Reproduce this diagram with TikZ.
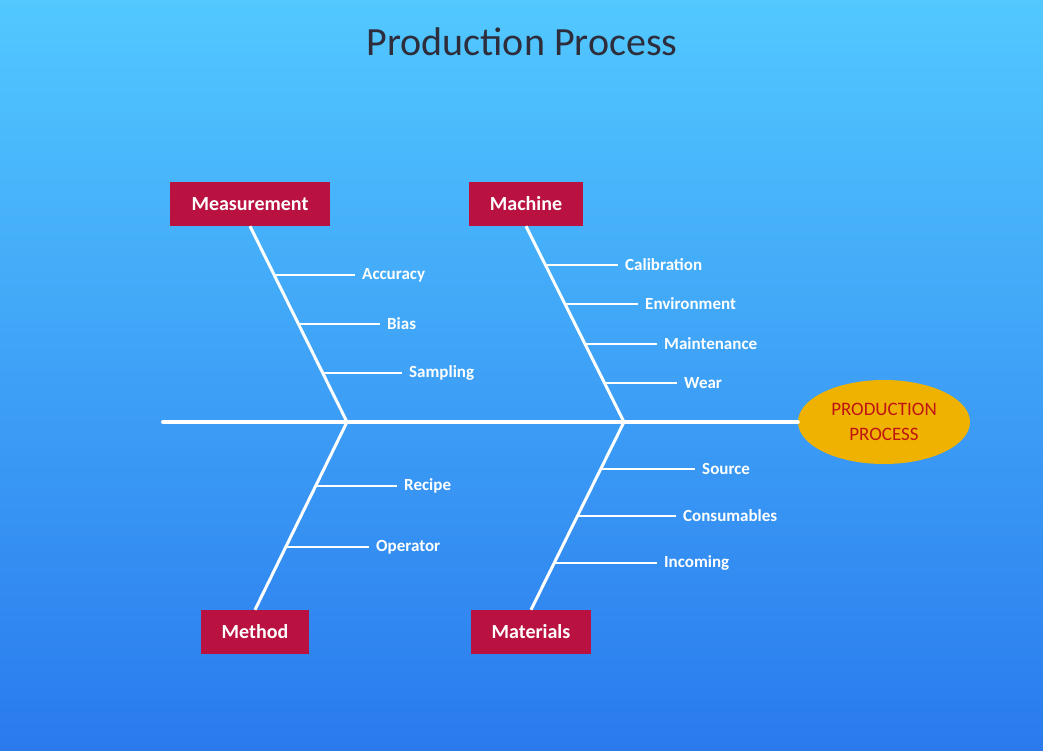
\documentclass[tikz,border=0pt]{standalone}
\usepackage{fontspec}
\setmainfont{Carlito}
\usetikzlibrary{positioning,shapes.geometric}
\definecolor{boxred}{RGB}{185,18,64}
\definecolor{skytop}{RGB}{82,200,255}
\definecolor{skybot}{RGB}{42,122,238}
\definecolor{headfill}{RGB}{240,178,0}
\definecolor{headtext}{RGB}{190,20,20}
\tikzset{
  cat/.style={fill=boxred,text=white,minimum height=44pt,font=\bfseries\fontsize{20}{24}\selectfont},
  bone/.style={draw=white,line width=3pt},
  rib/.style={draw=white,line width=2.4pt},
  cause/.style={anchor=west,text=white,inner sep=0pt,font=\bfseries\fontsize{17}{20}\selectfont}
}
\begin{document}
\begin{tikzpicture}[x=1pt,y=-1pt]
\shade[top color=skytop,bottom color=skybot] (0,0) rectangle (1043,751);
\useasboundingbox (0,0) rectangle (1043,751);
\node[text={rgb,255:red,45;green,45;blue,60},font=\fontsize{40}{46}\selectfont] (title) at (522,42) {Production Process};

% head and spine
\node[ellipse,fill=headfill,minimum width=172pt,minimum height=84pt,inner sep=0pt,
      align=center,text=headtext,font=\fontsize{19}{25}\selectfont] (head) at (884,422) {PRODUCTION\\PROCESS};
\coordinate (tail) at (163,422);
\coordinate (j1) at (347,422);
\coordinate (j2) at (624,422);
\draw[bone,line width=4pt,line cap=round] (tail) -- (head);

% categories
\node[cat,minimum width=160pt] (meas) at (250,204) {Measurement};
\node[cat,minimum width=114pt] (mach) at (526,204) {Machine};
\node[cat,minimum width=108pt] (meth) at (255,632) {Method};
\node[cat,minimum width=120pt] (mat)  at (531,632) {Materials};
\draw[bone] (meas.south) -- (j1);
\draw[bone] (mach.south) -- (j2);
\draw[bone] (meth.north) -- (j1);
\draw[bone] (mat.north) -- (j2);

% causes
\foreach \x/\y/\e/\name/\txt in {
    274/275/355/acc/Accuracy, 298.5/324/380/bias/Bias, 323/373/402/samp/Sampling,
    545.5/265/618/cal/Calibration, 565/304/638/env/Environment,
    585/344/657/main/Maintenance, 604/383/677/wear/Wear,
    315.7/486/397/rec/Recipe, 286/547/369/op/Operator,
    600.7/469/695/src/Source, 577.5/516/676/cons/Consumables, 554/563/657/inc/Incoming}{
  \coordinate (\name-a) at (\x,\y);
  \node[cause] (\name) at (\e+7,\y) {\txt};
  \draw[rib] (\name-a) -- (\e,\y);
}
\end{tikzpicture}
\end{document}
